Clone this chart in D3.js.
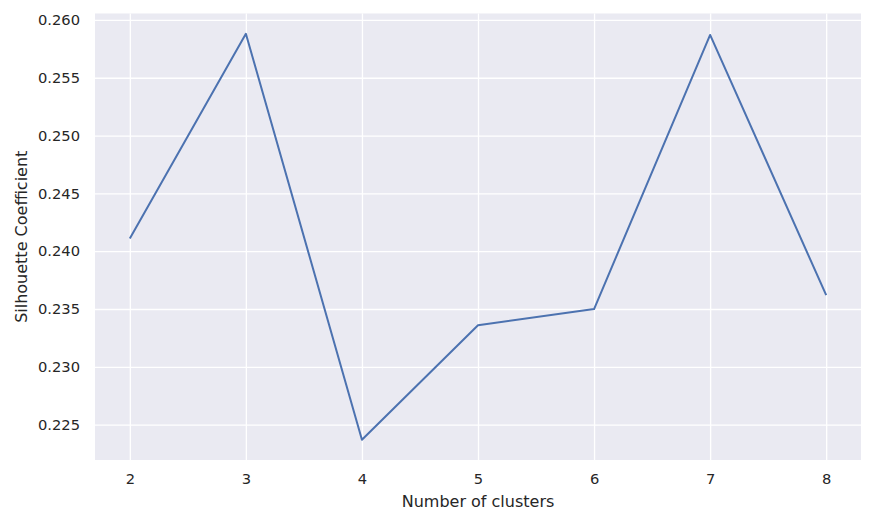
<!DOCTYPE html>
<html>
<head>
<meta charset="utf-8">
<script src="https://cdn.jsdelivr.net/npm/d3@7/dist/d3.min.js"></script>
<style>
  html, body { margin: 0; padding: 0; background: #ffffff; }
  svg { display: block; }
  text { font-family: "DejaVu Sans", sans-serif; fill: #262626; }
</style>
</head>
<body>
<svg id="chart" width="883" height="527"></svg>
<script>
const clusters = [2, 3, 4, 5, 6, 7, 8];
const silhouette = [0.2411, 0.2588, 0.2237, 0.2336, 0.2350, 0.2587, 0.2362];
const xTicks = [2, 3, 4, 5, 6, 7, 8];
const yTicks = [0.225, 0.230, 0.235, 0.240, 0.245, 0.250, 0.255, 0.260];
const xLabel = "Number of clusters";
const yLabel = "Silhouette Coefficient";

const svg = d3.select("#chart");
const plot = { left: 95, right: 861, top: 13.5, bottom: 460 };

const xMin = d3.min(clusters), xMax = d3.max(clusters);
const xPad = (xMax - xMin) * 0.05;
const yMin = d3.min(silhouette), yMax = d3.max(silhouette);
const yPad = (yMax - yMin) * 0.05;

const x = d3.scaleLinear().domain([xMin - xPad, xMax + xPad]).range([plot.left, plot.right]);
const y = d3.scaleLinear().domain([yMin - yPad, yMax + yPad]).range([plot.bottom, plot.top]);

svg.append("rect")
  .attr("x", plot.left).attr("y", plot.top)
  .attr("width", plot.right - plot.left).attr("height", plot.bottom - plot.top)
  .attr("fill", "#EAEAF2");

const xAxis = d3.axisBottom(x).tickValues(xTicks).tickFormat(d3.format("d"))
  .tickSize(-(plot.bottom - plot.top)).tickPadding(14);
const gx = svg.append("g").attr("transform", `translate(0,${plot.bottom})`).call(xAxis);
gx.select(".domain").remove();
gx.selectAll(".tick line").attr("stroke", "#ffffff").attr("stroke-width", 1.33);
gx.selectAll(".tick text").attr("font-size", "14.7px").attr("fill", "#262626")
  .attr("font-family", "DejaVu Sans, sans-serif");

const yAxis = d3.axisLeft(y).tickValues(yTicks).tickFormat(d3.format(".3f"))
  .tickSize(-(plot.right - plot.left)).tickPadding(15);
const gy = svg.append("g").attr("transform", `translate(${plot.left},0)`).call(yAxis);
gy.select(".domain").remove();
gy.selectAll(".tick line").attr("stroke", "#ffffff").attr("stroke-width", 1.33);
gy.selectAll(".tick text").attr("font-size", "14.7px").attr("fill", "#262626")
  .attr("font-family", "DejaVu Sans, sans-serif");

const line = d3.line().x((d, i) => x(clusters[i])).y(d => y(d));
svg.append("path")
  .datum(silhouette)
  .attr("d", line)
  .attr("fill", "none")
  .attr("stroke", "#4C72B0")
  .attr("stroke-width", 2)
  .attr("stroke-linejoin", "round")
  .attr("stroke-linecap", "butt");

svg.append("text")
  .attr("x", (plot.left + plot.right) / 2)
  .attr("y", 507)
  .attr("text-anchor", "middle")
  .attr("font-size", "16px")
  .text(xLabel);

svg.append("text")
  .attr("transform", `translate(27,${(plot.top + plot.bottom) / 2}) rotate(-90)`)
  .attr("text-anchor", "middle")
  .attr("font-size", "16px")
  .text(yLabel);
</script>
</body>
</html>
